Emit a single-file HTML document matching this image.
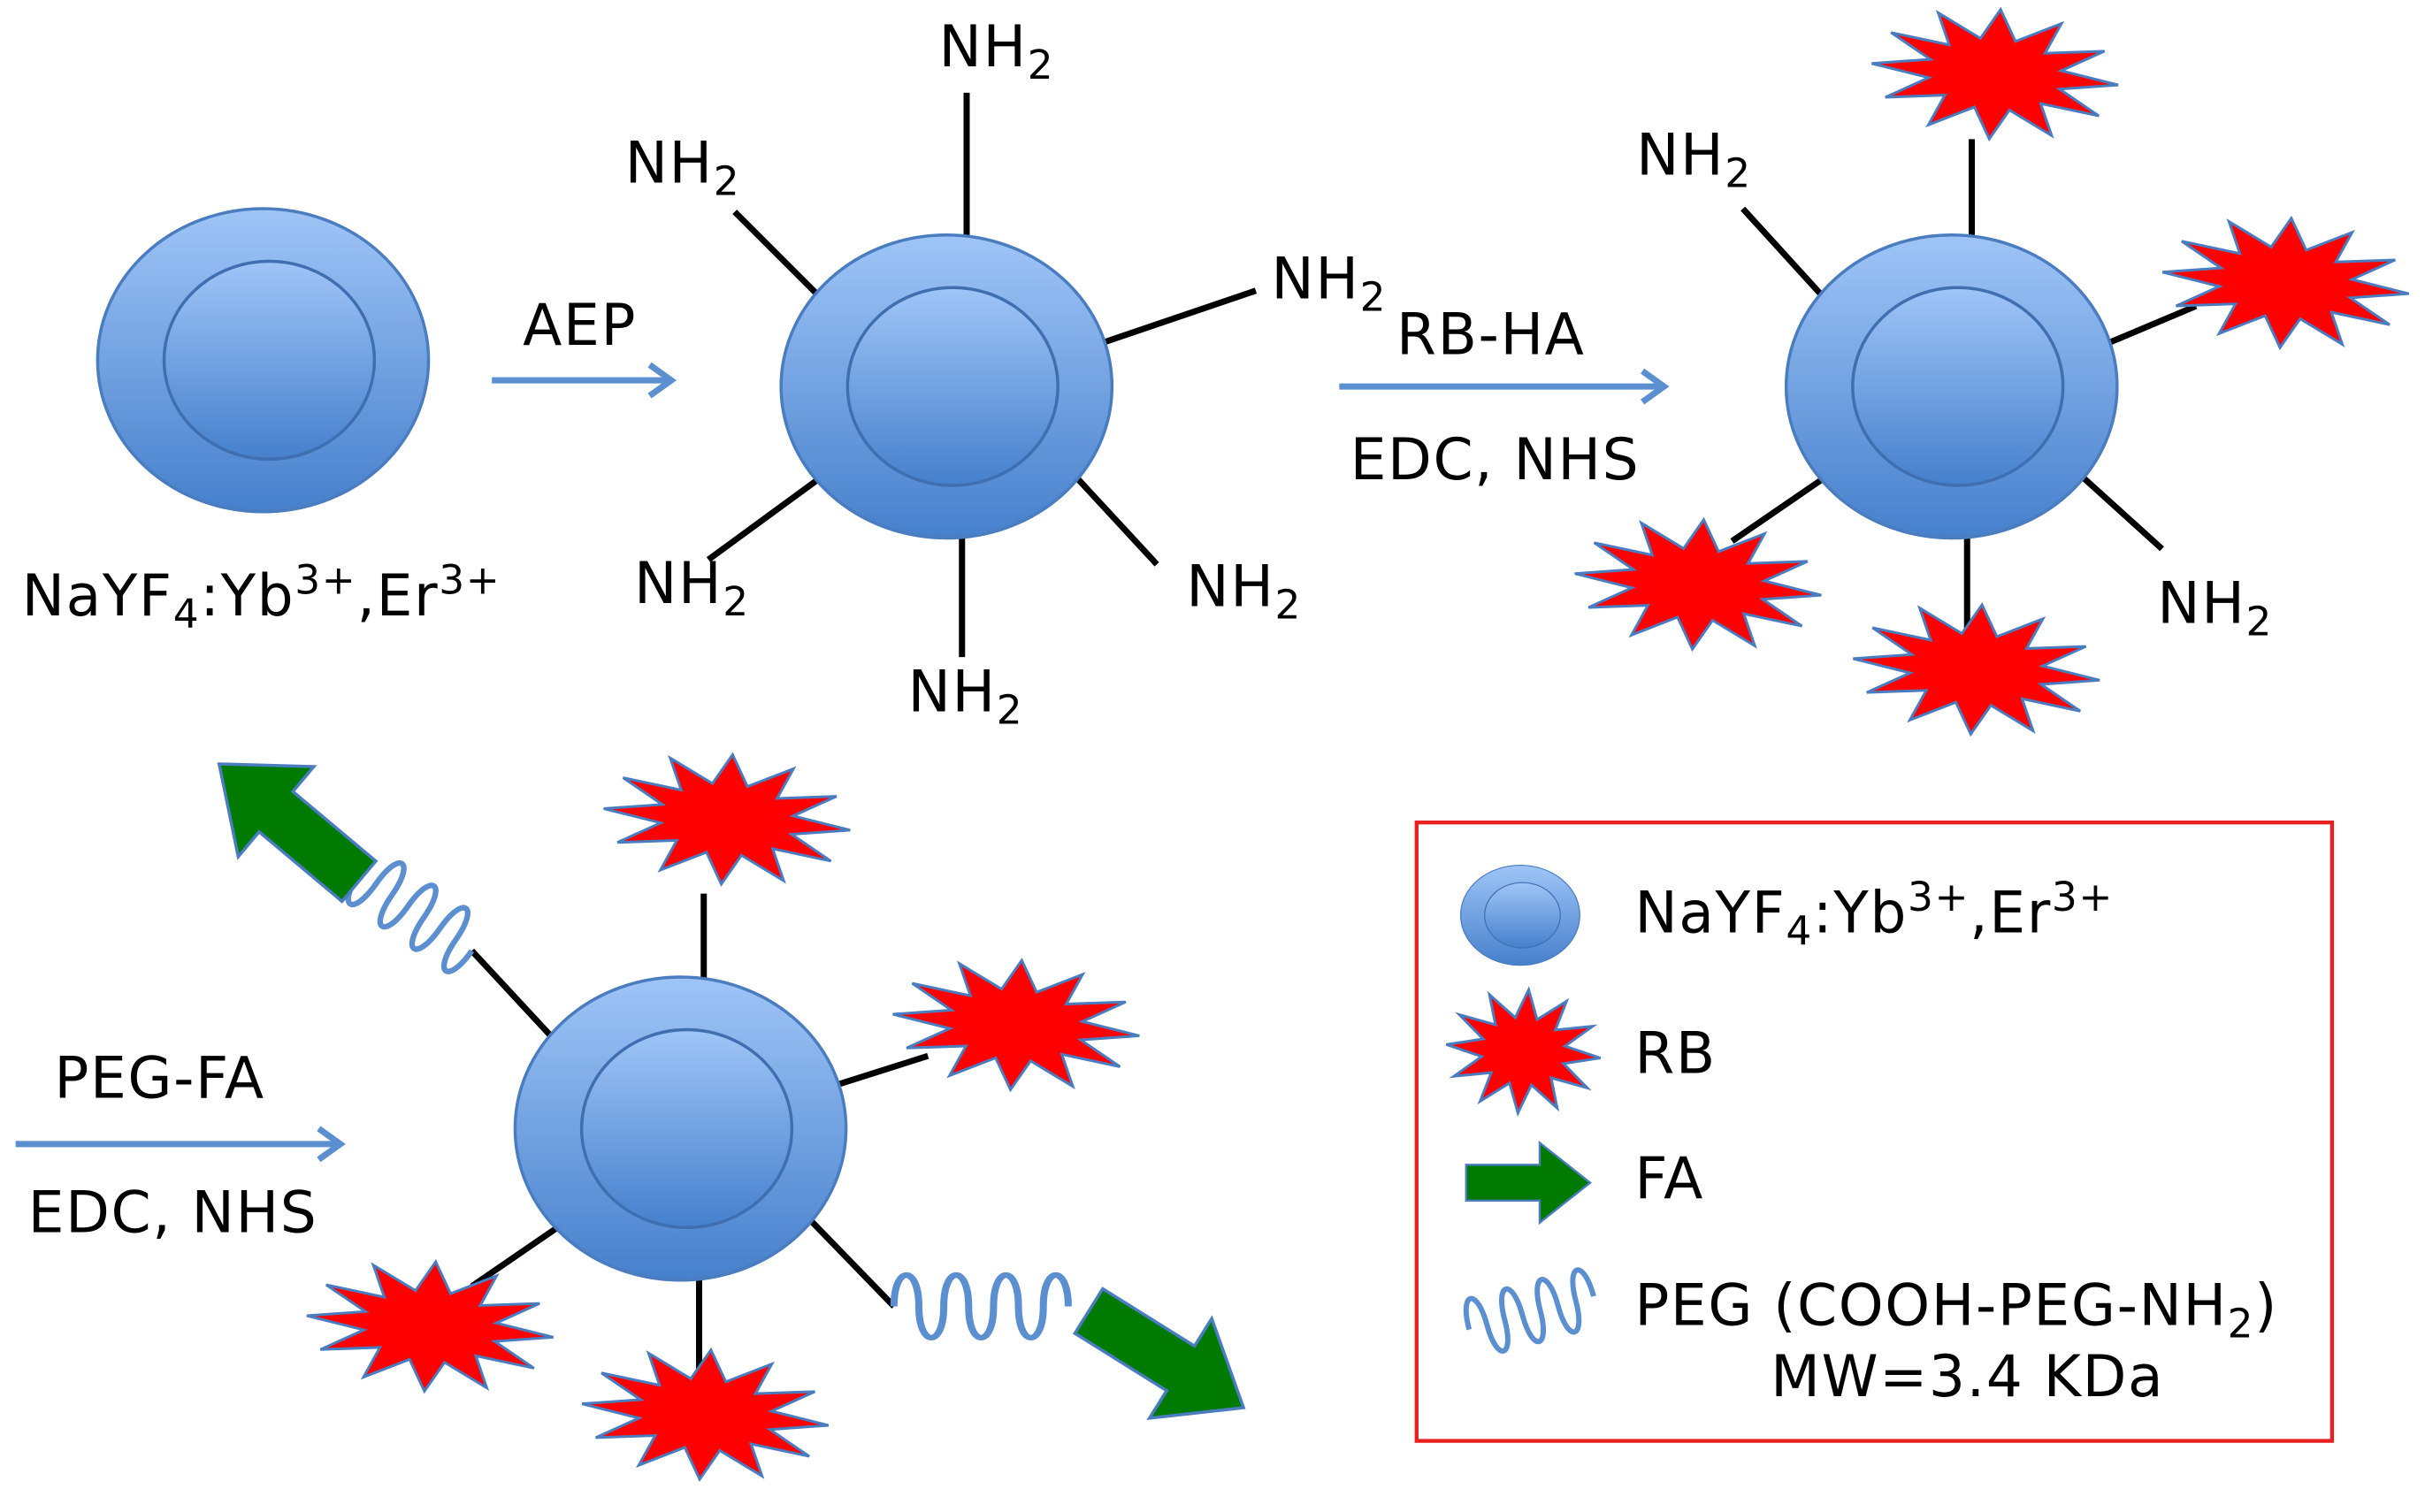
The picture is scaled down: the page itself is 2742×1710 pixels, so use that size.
<!DOCTYPE html>
<html><head><meta charset="utf-8"><style>
html,body{margin:0;padding:0;background:#fff;}
svg{display:block;}
text{font-family:"DejaVu Sans","Liberation Sans",sans-serif;font-size:37px;letter-spacing:0.9px;fill:#000;}
</style></head><body>
<svg width="2742" height="1710" viewBox="0 0 1568 978" xmlns="http://www.w3.org/2000/svg">
<defs>
<linearGradient id="g" x1="0" y1="0" x2="0" y2="1">
<stop offset="0" stop-color="#9fc5f7"/><stop offset="1" stop-color="#4680cc"/>
</linearGradient>
<g id="np">
<ellipse cx="0" cy="0" rx="107" ry="98" fill="url(#g)" stroke="#4a7cc0" stroke-width="2"/>
<ellipse cx="4" cy="0" rx="68" ry="64" fill="url(#g)" stroke="#3f6fb0" stroke-width="2"/>
</g>
<polygon id="st" points="1,0 .531,.142 .866,.5 .389,.389 .5,.866 .142,.531 0,1 -.142,.531 -.5,.866 -.389,.389 -.866,.5 -.531,.142 -1,0 -.531,-.142 -.866,-.5 -.389,-.389 -.5,-.866 -.142,-.531 0,-1 .142,-.531 .5,-.866 .389,-.389 .866,-.5 .531,-.142" fill="#ff0000" stroke="#4a7cc0" stroke-width="3" vector-effect="non-scaling-stroke"/>
<polygon id="ga" points="0,-17 70,-17 70,-38 118,0 70,38 70,17 0,17" fill="#007a00" stroke="#4a7cc0" stroke-width="2"/>
<path id="wv" d="M0,0 c0,-30 14,-30 14,0 c0,30 14,30 14,0 c0,-30 14,-30 14,0 c0,30 14,30 14,0 c0,-30 14,-30 14,0 c0,30 14,30 14,0 c0,-30 14,-30 14,0" fill="none" stroke="#5b8fd0" stroke-width="4"/>
</defs>

<use href="#np" transform="translate(170,233)"/>
<text x="14" y="398">NaYF<tspan font-size="26" dy="8">4</tspan><tspan dy="-8">:Yb</tspan><tspan font-size="26" dy="-14">3+</tspan><tspan dy="14">,Er</tspan><tspan font-size="26" dy="-14">3+</tspan></text>

<line x1="318" y1="246" x2="434" y2="246" stroke="#5b8fd0" stroke-width="4"/>
<polyline points="420,236 434,246 420,256" fill="none" stroke="#5b8fd0" stroke-width="4"/>
<text x="338" y="223">AEP</text>

<g stroke="#000" stroke-width="4">
<line x1="625" y1="60" x2="625" y2="172"/>
<line x1="475" y1="137" x2="540" y2="202"/>
<line x1="712" y1="222" x2="812" y2="188"/>
<line x1="540" y1="302" x2="458" y2="362"/>
<line x1="622" y1="332" x2="622" y2="425"/>
<line x1="686" y1="298" x2="748" y2="365"/>
</g>
<use href="#np" transform="translate(612,250)"/>
<text x="607" y="43">NH<tspan font-size="26" dy="8">2</tspan></text>
<text x="404" y="118">NH<tspan font-size="26" dy="8">2</tspan></text>
<text x="822" y="193">NH<tspan font-size="26" dy="8">2</tspan></text>
<text x="410" y="390">NH<tspan font-size="26" dy="8">2</tspan></text>
<text x="587" y="460">NH<tspan font-size="26" dy="8">2</tspan></text>
<text x="767" y="392">NH<tspan font-size="26" dy="8">2</tspan></text>

<line x1="866" y1="250" x2="1076" y2="250" stroke="#5b8fd0" stroke-width="4"/>
<polyline points="1062,240 1076,250 1062,260" fill="none" stroke="#5b8fd0" stroke-width="4"/>
<text x="903" y="229">RB-HA</text>
<text x="873" y="310">EDC, NHS</text>

<g stroke="#000" stroke-width="4">
<line x1="1275" y1="90" x2="1275" y2="172"/>
<line x1="1127" y1="135" x2="1188" y2="202"/>
<line x1="1363" y1="222" x2="1420" y2="198"/>
<line x1="1190" y1="302" x2="1120" y2="350"/>
<line x1="1272" y1="330" x2="1272" y2="415"/>
<line x1="1335" y1="298" x2="1398" y2="355"/>
</g>
<use href="#np" transform="translate(1262,250)"/>
<text x="1058" y="113">NH<tspan font-size="26" dy="8">2</tspan></text>
<text x="1395" y="403">NH<tspan font-size="26" dy="8">2</tspan></text>
<use href="#st" transform="translate(1290,48) rotate(5) scale(80,42)"/>
<use href="#st" transform="translate(1478,183) rotate(5) scale(80,42)"/>
<use href="#st" transform="translate(1098,378) rotate(5) scale(80,42)"/>
<use href="#st" transform="translate(1278,433) rotate(5) scale(80,42)"/>

<line x1="10" y1="740" x2="220" y2="740" stroke="#5b8fd0" stroke-width="4"/>
<polyline points="206,730 220,740 206,750" fill="none" stroke="#5b8fd0" stroke-width="4"/>
<text x="35" y="710">PEG-FA</text>
<text x="18" y="797">EDC, NHS</text>

<g stroke="#000" stroke-width="4">
<line x1="455" y1="578" x2="455" y2="650"/>
<line x1="305" y1="615" x2="370" y2="685"/>
<line x1="540" y1="702" x2="600" y2="683"/>
<line x1="372" y1="786" x2="305" y2="832"/>
<line x1="452" y1="812" x2="452" y2="892"/>
<line x1="515" y1="780" x2="578" y2="845"/>
</g>
<use href="#np" transform="translate(440,730)"/>
<use href="#wv" transform="translate(305,615) rotate(215) scale(0.9,0.9)"/>
<use href="#wv" transform="translate(578,845) scale(1.15,0.9)"/>
<use href="#ga" transform="translate(232,570) rotate(-140)"/>
<use href="#ga" transform="translate(704,848) rotate(32)"/>
<use href="#st" transform="translate(470,530) rotate(5) scale(80,42)"/>
<use href="#st" transform="translate(657,663) rotate(5) scale(80,42)"/>
<use href="#st" transform="translate(278,858) rotate(5) scale(80,42)"/>
<use href="#st" transform="translate(456,915) rotate(5) scale(80,42)"/>

<rect x="916" y="532" width="592" height="400" fill="#fff" stroke="#e82020" stroke-width="2.5"/>
<g transform="translate(983,592) scale(0.36,0.33)"><use href="#np"/></g>
<text x="1057" y="603">NaYF<tspan font-size="26" dy="8">4</tspan><tspan dy="-8">:Yb</tspan><tspan font-size="26" dy="-14">3+</tspan><tspan dy="14">,Er</tspan><tspan font-size="26" dy="-14">3+</tspan></text>
<use href="#st" transform="translate(985,680) rotate(5) scale(50,40)"/>
<text x="1057" y="694">RB</text>
<use href="#ga" transform="translate(948,765) scale(0.68,0.68)"/>
<text x="1057" y="775">FA</text>
<use href="#wv" transform="translate(950,860) rotate(-15) scale(0.85,0.85)"/>
<text x="1057" y="857">PEG (COOH-PEG-NH<tspan font-size="26" dy="8">2</tspan><tspan dy="-8">)</tspan></text>
<text x="1145" y="903">MW=3.4 KDa</text>
</svg>
</body></html>
